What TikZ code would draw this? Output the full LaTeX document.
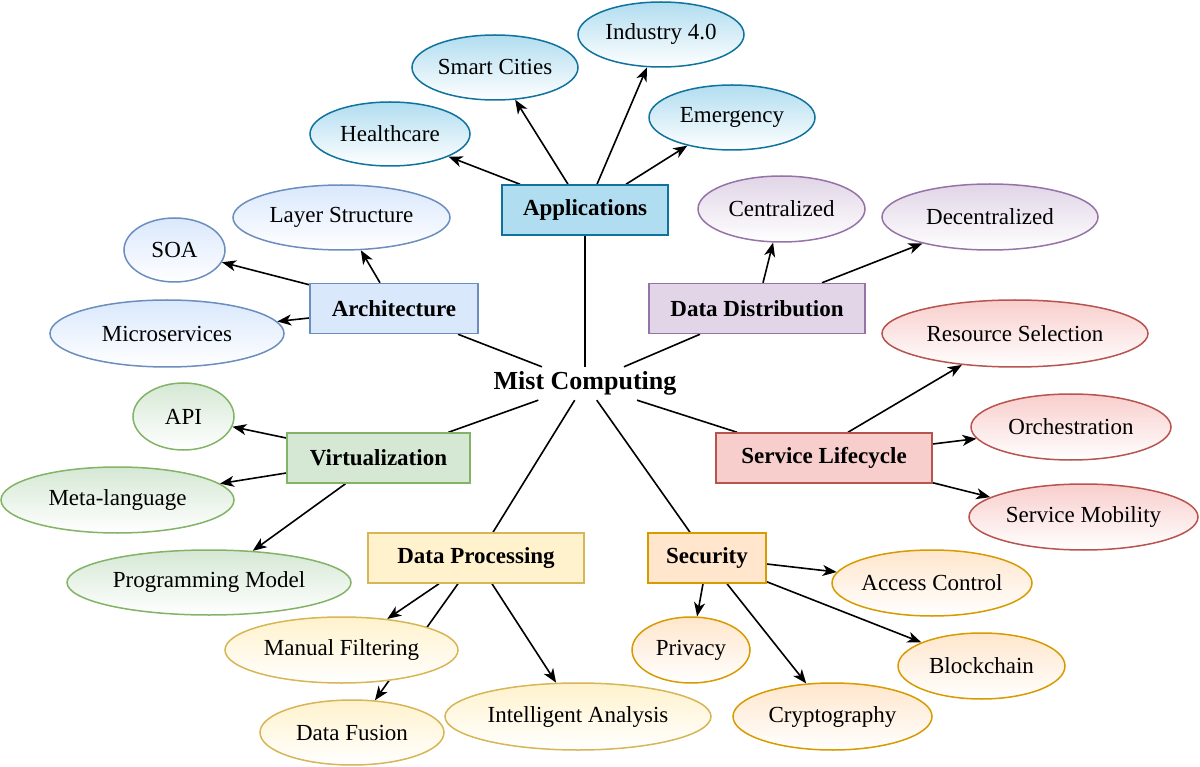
\documentclass[tikz,border=0pt]{standalone}
\usepackage{fontspec}
\setmainfont{Liberation Serif}
\usetikzlibrary{shapes.geometric,arrows.meta}
\definecolor{appF}{HTML}{B1DDF0}\definecolor{appS}{HTML}{10739E}
\definecolor{arcF}{HTML}{DAE8FC}\definecolor{arcS}{HTML}{6C8EBF}
\definecolor{ddF}{HTML}{E1D5E7}\definecolor{ddS}{HTML}{9673A6}
\definecolor{slF}{HTML}{F8CECC}\definecolor{slS}{HTML}{B85450}
\definecolor{viF}{HTML}{D5E8D4}\definecolor{viS}{HTML}{82B366}
\definecolor{dpF}{HTML}{FFF2CC}\definecolor{dpS}{HTML}{D6B656}
\definecolor{seF}{HTML}{FFE6CC}\definecolor{seS}{HTML}{D79B00}
\pgfdeclarelayer{bg}\pgfsetlayers{bg,main}
\tikzset{
  box/.style 2 args={rectangle, draw=#2, fill=#1, line width=1.5pt, minimum height=50pt, inner sep=0pt, font=\bfseries\fontsize{23}{27}\selectfont},
  leaf/.style 2 args={ellipse, draw=#2, top color=#1, bottom color=white, line width=1.5pt, inner sep=0pt, font=\fontsize{23}{27}\selectfont},
  link/.style={line width=1.6pt, black},
  arr/.style={line width=1.6pt, black, -{Stealth[length=14pt,width=11pt,inset=4pt]}}
}
\begin{document}
\begin{tikzpicture}[x=1pt,y=-1pt]
\useasboundingbox (0,0) rectangle (1200,767);
% centre
\node[font=\bfseries\fontsize{26}{30}\selectfont, minimum height=33pt, inner sep=2pt] (mc) at (585,383.5) {Mist Computing};
% category boxes
\node[box={appF}{appS}, minimum width=166pt] (app) at (585,210) {Applications};
\node[box={arcF}{arcS}, minimum width=168pt] (arch) at (394,308.5) {Architecture};
\node[box={ddF}{ddS}, minimum width=216pt] (dd) at (757,308.5) {Data Distribution};
\node[box={viF}{viS}, minimum width=183pt] (virt) at (378.5,458) {Virtualization};
\node[box={slF}{slS}, minimum width=216pt] (sl) at (824,458) {Service Lifecycle};
\node[box={dpF}{dpS}, minimum width=216pt] (dp) at (476,558) {Data Processing};
\node[box={seF}{seS}, minimum width=118pt] (sec) at (707,558) {Security};
% applications
\node[leaf={appF}{appS}, minimum width=160pt, minimum height=64pt] (hc) at (390,134) {Healthcare};
\node[leaf={appF}{appS}, minimum width=166pt, minimum height=65pt] (sc) at (495,67.5) {Smart Cities};
\node[leaf={appF}{appS}, minimum width=166pt, minimum height=65pt] (ind) at (661,34.5) {Industry 4.0};
\node[leaf={appF}{appS}, minimum width=166pt, minimum height=65pt] (em) at (732,117.5) {Emergency};
% architecture
\node[leaf={arcF}{arcS}, minimum width=217pt, minimum height=65pt] (ls) at (341.5,217.5) {Layer Structure};
\node[leaf={arcF}{arcS}, minimum width=101pt, minimum height=64pt] (soa) at (174.5,250) {SOA};
\node[leaf={arcF}{arcS}, minimum width=234pt, minimum height=67pt] (ms) at (167,333.5) {Microservices};
% data distribution
\node[leaf={ddF}{ddS}, minimum width=167pt, minimum height=66pt] (cen) at (781.5,209) {Centralized};
\node[leaf={ddF}{ddS}, minimum width=216pt, minimum height=66pt] (dec) at (990,217) {Decentralized};
% service lifecycle
\node[leaf={slF}{slS}, minimum width=266pt, minimum height=67pt] (rs) at (1015,333.5) {Resource Selection};
\node[leaf={slF}{slS}, minimum width=200pt, minimum height=66pt] (orc) at (1071,427) {Orchestration};
\node[leaf={slF}{slS}, minimum width=229pt, minimum height=66pt] (smo) at (1083.5,517) {Service Mobility};
% virtualization
\node[leaf={viF}{viS}, minimum width=101pt, minimum height=67pt] (api) at (183.5,416.5) {API};
\node[leaf={viF}{viS}, minimum width=233pt, minimum height=66pt] (meta) at (117.5,500) {Meta-language};
\node[leaf={viF}{viS}, minimum width=284pt, minimum height=65pt] (pm) at (209,582.5) {Programming Model};
% data processing
\node[leaf={dpF}{dpS}, minimum width=233pt, minimum height=66pt] (mf) at (341.5,650) {Manual Filtering};
\node[leaf={dpF}{dpS}, minimum width=184pt, minimum height=65pt] (df) at (352,732.5) {Data Fusion};
\node[leaf={dpF}{dpS}, minimum width=266pt, minimum height=67pt] (ia) at (578,716.5) {Intelligent Analysis};
% security
\node[leaf={seF}{seS}, minimum width=200pt, minimum height=66pt] (ac) at (932,583) {Access Control};
\node[leaf={seF}{seS}, minimum width=118pt, minimum height=66pt] (pri) at (691,650) {Privacy};
\node[leaf={seF}{seS}, minimum width=199pt, minimum height=67pt] (cry) at (832.5,716.5) {Cryptography};
\node[leaf={seF}{seS}, minimum width=167pt, minimum height=66pt] (bc) at (981.5,666) {Blockchain};
% connectors
\begin{pgfonlayer}{bg}
\draw[link] (app.south) -- (mc);
\draw[link] ([xshift=64pt]arch.south) -- (mc);
\draw[link] ([xshift=-57pt]dd.south) -- (mc);
\draw[link] ([xshift=70pt]virt.north) -- (mc);
\draw[link] ([xshift=-87pt]sl.north) -- (mc);
\draw[link] ([xshift=17pt]dp.north) -- (mc);
\draw[link] ([xshift=-17pt]sec.north) -- (mc);
\draw[arr] ([xshift=-65pt]app.north) -- (hc);
\draw[arr] ([xshift=-17pt]app.north) -- (sc);
\draw[arr] ([xshift=12pt]app.north) -- (ind);
\draw[arr] ([xshift=41pt]app.north) -- (em);
\draw[arr] ([xshift=-14pt]arch.north) -- (ls);
\draw[arr] ([yshift=-2pt]arch.north west) -- (soa);
\draw[arr] ([yshift=-9.5pt]arch.west) -- (ms);
\draw[arr] ([xshift=6pt]dd.north) -- (cen);
\draw[arr] ([xshift=65pt]dd.north) -- (dec);
\draw[arr] ([xshift=24pt]sl.north) -- (rs);
\draw[arr] ([yshift=14pt]sl.east) -- (orc);
\draw[arr] ([yshift=1pt]sl.south east) -- (smo.168);
\draw[arr] ([yshift=20pt]virt.west) -- (api);
\draw[arr] ([yshift=-15pt]virt.west) -- (meta);
\draw[arr] ([xshift=-33pt]virt.south) -- (pm);
\draw[arr] ([xshift=-37pt]dp.south) -- (mf);
\draw[arr] ([xshift=-18pt]dp.south) -- (df);
\draw[arr] ([xshift=16pt]dp.south) -- (ia);
\draw[arr] ([yshift=-6pt]sec.east) -- (ac);
\draw[arr] ([yshift=2pt]sec.south east) -- (bc);
\draw[arr] ([xshift=-4pt]sec.south) -- (pri);
\draw[arr] ([xshift=20pt]sec.south) -- (cry);
\end{pgfonlayer}
\end{tikzpicture}
\end{document}
